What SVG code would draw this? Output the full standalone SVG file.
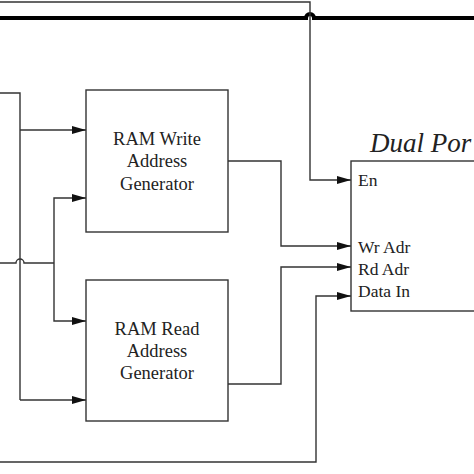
<svg xmlns="http://www.w3.org/2000/svg" width="474" height="474" viewBox="0 0 474 474">
<defs>
<marker id="ah" markerWidth="14" markerHeight="8" refX="14" refY="4" orient="auto" markerUnits="userSpaceOnUse">
<path d="M0,0 L14,4 L0,8 Z" fill="#111"/>
</marker>
<style>
.w{fill:none;stroke:#333;stroke-width:1.4}
.a{fill:none;stroke:#333;stroke-width:1.4;marker-end:url(#ah)}
.bus{fill:none;stroke:#000;stroke-width:4}
.box{fill:#fff;stroke:#333;stroke-width:1.4}
.t{font-family:"Liberation Serif",serif;font-size:18.5px;fill:#222;text-anchor:middle}
.p{font-family:"Liberation Serif",serif;font-size:17.5px;fill:#222}
.ti{font-family:"Liberation Serif",serif;font-size:27px;font-style:italic;fill:#222}
</style>
</defs>
<rect width="474" height="474" fill="#fff"/>
<g id="connectors">
<path class="bus" d="M0,18 H306 A4,4 0 0 1 314,18 H474"/>
<path class="a" d="M0,2 H310 V180 H351"/>
<path class="w" d="M0,93 H20 V400"/>
<path class="a" d="M20,130 H86"/>
<path class="a" d="M20,400 H86"/>
<path class="w" d="M0,263 H16 A4,4 0 0 1 24,263 H54"/>
<path class="a" d="M54,263 V198 H86"/>
<path class="a" d="M54,263 V321 H86"/>
<path class="a" d="M228,161 H281 V246 H351"/>
<path class="a" d="M228,384 H281 V267 H351"/>
<path class="a" d="M0,462 H316 V296 H351"/>
</g>
<g id="ram-write">
<rect class="box" x="86" y="90" width="142" height="142"/>
<text class="t" x="157" y="145">RAM Write</text>
<text class="t" x="157" y="167">Address</text>
<text class="t" x="157" y="190">Generator</text>
</g>
<g id="ram-read">
<rect class="box" x="86" y="280" width="142" height="141"/>
<text class="t" x="157" y="335">RAM Read</text>
<text class="t" x="157" y="357">Address</text>
<text class="t" x="157" y="379">Generator</text>
</g>
<g id="dual-port">
<rect class="box" x="351" y="161" width="140" height="150"/>
<text class="ti" x="370" y="152">Dual Por</text>
<text class="p" x="358" y="186">En</text>
<text class="p" x="358" y="253">Wr Adr</text>
<text class="p" x="358" y="275">Rd Adr</text>
<text class="p" x="358" y="297">Data In</text>
</g>
</svg>
